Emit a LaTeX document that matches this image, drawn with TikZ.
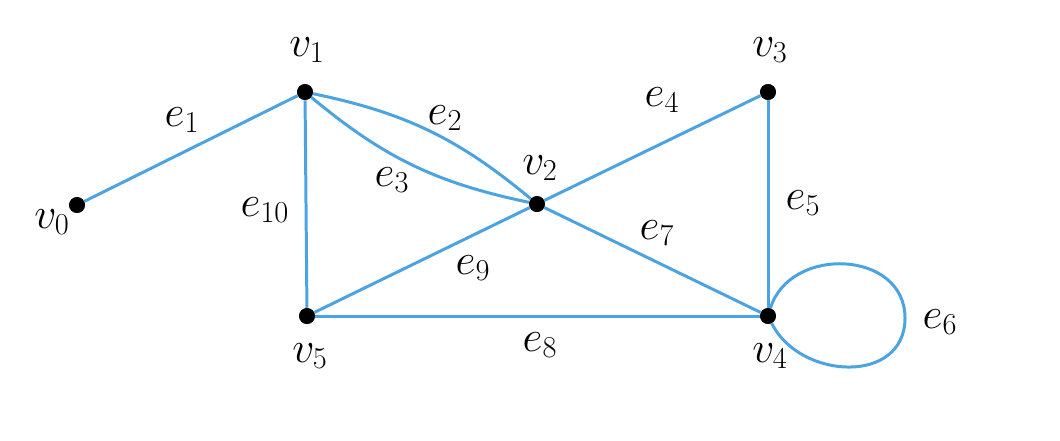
\documentclass[tikz,border=0pt]{standalone}
\begin{document}
\begin{tikzpicture}[x=0.02cm,y=-0.02cm,
  vert/.style={circle,fill=black,inner sep=0pt,minimum size=9pt},
  lab/.style={inner sep=0pt,font=\fontsize{24}{28}\selectfont},
  edge/.style={draw={rgb,255:red,75;green,163;blue,225},line width=1.7pt}]
\useasboundingbox (0,0) rectangle (1060,440);
\node[vert] (v0) at (77,205) {};
\node[vert] (v1) at (305,92) {};
\node[vert] (v2) at (537,204) {};
\node[vert] (v3) at (768,92) {};
\node[vert] (v4) at (768,316) {};
\node[vert] (v5) at (307,316) {};
\coordinate (lp) at (905,318);
\draw[edge] (v0) -- (v1);
\draw[edge] (v1) to[bend left=14] (v2);
\draw[edge] (v1) to[bend right=14] (v2);
\draw[edge] (v2) -- (v3);
\draw[edge] (v3) -- (v4);
\draw[edge] (v2) -- (v4);
\draw[edge] (v5) -- (v4);
\draw[edge] (v5) -- (v2);
\draw[edge] (v1) -- (v5);
\draw[edge] (v4) .. controls (790,245) and (905,250) .. (lp) .. controls (905,385) and (800,380) .. (v4);
\node[vert] at (v0) {};\node[vert] at (v1) {};\node[vert] at (v2) {};
\node[vert] at (v3) {};\node[vert] at (v4) {};\node[vert] at (v5) {};
\node[lab] (l0) at (52,222) {$v_0$};
\node[lab] (l1) at (307,50) {$v_1$};
\node[lab] (l2) at (540,168) {$v_2$};
\node[lab] (l3) at (770,50) {$v_3$};
\node[lab] (l4) at (770,356) {$v_4$};
\node[lab] (l5) at (310,356) {$v_5$};
\node[lab] (e1) at (182,120) {$e_1$};
\node[lab] (e2) at (445,118) {$e_2$};
\node[lab] (e3) at (392,180) {$e_3$};
\node[lab] (e4) at (662,100) {$e_4$};
\node[lab] (e5) at (803,203) {$e_5$};
\node[lab] (e6) at (940,322) {$e_6$};
\node[lab] (e7) at (657,233) {$e_7$};
\node[lab] (e8) at (540,345) {$e_8$};
\node[lab] (e9) at (473,268) {$e_9$};
\node[lab] (e10) at (265,210) {$e_{10}$};
\end{tikzpicture}
\end{document}
